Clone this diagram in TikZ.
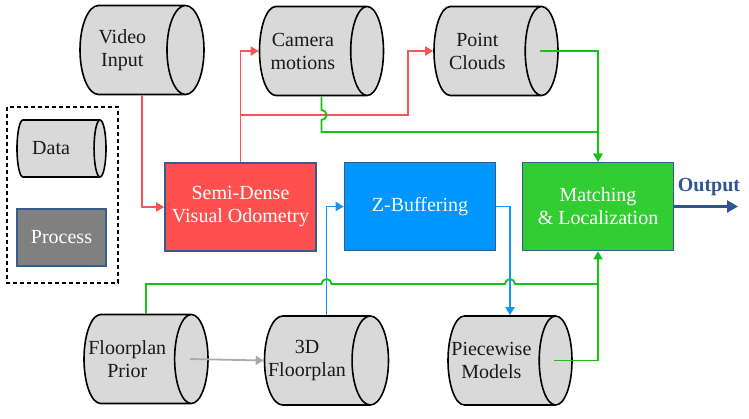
\documentclass[tikz,border=0pt]{standalone}
\usepackage{fontspec}
\setmainfont{Liberation Serif}
\usetikzlibrary{shapes.geometric, arrows.meta, calc, positioning}

\definecolor{DataColor}{RGB}{217,217,217}
\definecolor{BorderColor}{RGB}{56,93,138}
\definecolor{OdoColor}{RGB}{255,80,80}
\definecolor{ZbufColor}{RGB}{0,150,255}
\definecolor{MatchColor}{RGB}{50,205,50}
\definecolor{ProcColor}{RGB}{128,128,128}
\definecolor{RedLine}{RGB}{245,85,85}
\definecolor{BlueLine}{RGB}{20,150,240}
\definecolor{GreenLine}{RGB}{20,195,20}
\definecolor{GrayLine}{RGB}{170,170,170}
\definecolor{OutColor}{RGB}{47,85,151}

% text of a data store sits left of the cap
\newcommand{\datatext}[2]{\hspace*{-20pt}#1\\\hspace*{-20pt}#2}

\tikzset{
  data/.style={cylinder, draw=black, line width=1.6pt, cylinder uses custom fill,
    cylinder body fill=DataColor, cylinder end fill=DataColor, shape aspect=0.9,
    minimum width=89pt, minimum height=124pt, inner sep=0pt, align=center,
    anchor=shape center, text=black!90, font=\fontsize{20}{23}\selectfont},
  process/.style={rectangle, draw=BorderColor, line width=1.6pt, minimum width=151pt,
    minimum height=88pt, inner sep=0pt, align=center, text=white,
    font=\fontsize{20}{23}\selectfont},
  red link/.style={line width=1.8pt, RedLine, -{Triangle[length=8pt,width=9pt]}},
  blue link/.style={line width=1.8pt, BlueLine, -{Triangle[length=8pt,width=9pt]}},
  green link/.style={line width=1.8pt, GreenLine, -{Triangle[length=8pt,width=9pt]}},
  green line/.style={line width=1.8pt, GreenLine},
  gray link/.style={line width=1.8pt, GrayLine, -{Triangle[length=8pt,width=9pt]}}
}

\begin{document}
\begin{tikzpicture}[x=1pt, y=-1pt]
  \useasboundingbox (0,0) rectangle (749,419);

  % Data stores
  \node[data] (video) at (142,50) {\datatext{Video}{Input}};
  \node[data] (cam) at (321.5,51) {\datatext{Camera}{motions}};
  \node[data] (pts) at (496,51) {\datatext{Point}{Clouds}};
  \node[data] (prior) at (146,359) {\datatext{Floorplan}{Prior}};
  \node[data] (fp3d) at (326.5,360.5) {\datatext{3D}{Floorplan}};
  \node[data] (piece) at (510,360.5) {\datatext{Piecewise}{Models}};

  % Processes
  \node[process, fill=OdoColor] (odo) at (240.5,207) {Semi-Dense\\Visual Odometry};
  \node[process, fill=ZbufColor] (zbuf) at (420,206.5) {Z-Buffering};
  \node[process, fill=MatchColor] (match) at (598,206.5) {Matching\\\& Localization};

  % Legend
  \draw[line width=1.6pt, dash pattern=on 4pt off 3pt] (7,107) rectangle (118,283);
  \node[data, minimum width=57pt, minimum height=89pt] (leg data) at (61.5,148.5) {\hspace*{-14pt}Data};
  \node[process, fill=ProcColor, minimum width=89pt, minimum height=57pt] (leg proc) at (61.5,237.5) {Process};

  % Red: odometry
  \coordinate (red split) at (240.5,115);
  \coordinate (red bend) at ($(pts.west)+(-25,0)$);
  \draw[red link] (video.shape center |- video.south) |- (odo.west);
  \draw[red link] (odo.north) |- (cam.west);
  \draw[red link] (odo.north |- red split) -| (red bend) -- (pts.west);

  % Green: into matching
  \coordinate (cam hop) at (cam.shape center |- red split);
  \coordinate (low hop a) at (fp3d.shape center |- 0,284);
  \coordinate (low hop b) at (piece.shape center |- 0,284);
  \draw[green link] (cam.shape center |- cam.south) -- ($(cam hop)+(0,-5)$)
    arc[start angle=-90, end angle=90, radius=5] -- ++(0,12) -| (match.north);
  \draw[green link] ($(pts.east)+(-19,0)$) -| (match.north);
  \draw[green line] (prior.shape center |- prior.north) |- ($(low hop a)+(-5,0)$)
    arc[start angle=180, end angle=360, radius=5] -- ($(low hop b)+(-5,0)$)
    arc[start angle=180, end angle=360, radius=5] -- (match.south |- low hop a);
  \draw[green link] ($(piece.east)+(-19,0)$) -| (match.south);

  % Blue: z-buffering
  \draw[blue link] (fp3d.shape center |- fp3d.north) |- (zbuf.west);
  \draw[blue link] (zbuf.east) -| (piece.shape center |- piece.north);

  % Gray: floorplan
  \draw[gray link] ($(prior.east)+(-19,0)$) -- (fp3d.west);

  % Output
  \coordinate (out) at (738,206.5);
  \draw[line width=2.6pt, OutColor, -{Triangle[length=11pt,width=12pt]}] (match.east) -- (out);
  \node[font=\fontsize{20}{23}\selectfont\bfseries, text=OutColor] (outlabel) at (709,187) {Output};
\end{tikzpicture}
\end{document}
